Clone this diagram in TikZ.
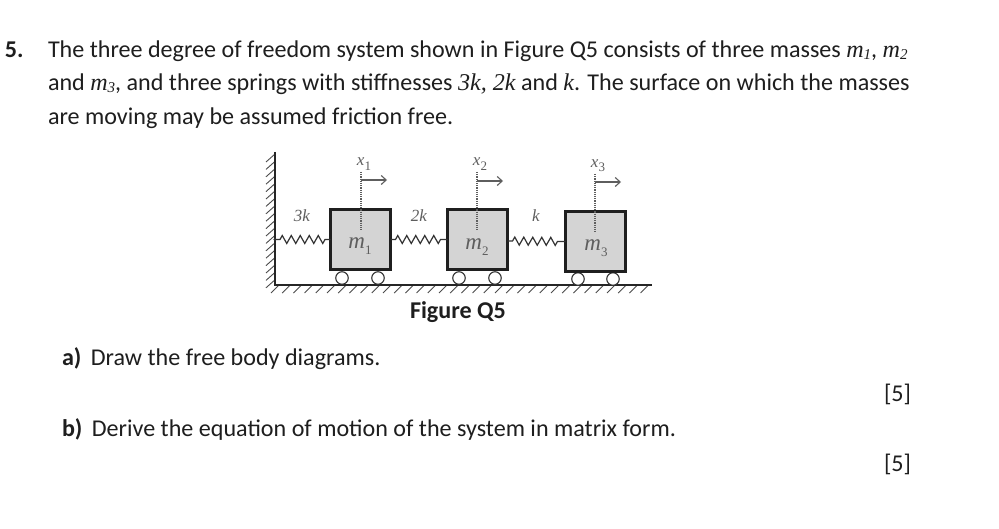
\documentclass[tikz,border=0pt]{standalone}
\usepackage{fontspec}
\setmainfont{Carlito}
\newfontfamily\tms{Liberation Serif}
\usetikzlibrary{decorations.pathmorphing,arrows.meta}
\definecolor{txt}{HTML}{1E1E1E}
\definecolor{fig}{HTML}{5E5E5E}
\newcommand{\mivar}[2]{{\tms\itshape #1\raisebox{-1.5pt}{\fontsize{15}{15}\selectfont #2}}}
\newcommand{\itvar}[1]{{\tms\itshape #1}}
\newcommand{\figsub}[2]{#1\raisebox{-0.25em}{\fontsize{13}{13}\selectfont\upshape #2}}
\tikzset{
 x=1pt,y=-1pt,
 line/.style={anchor=base west,inner sep=0pt,outer sep=0pt,text=txt,font=\fontsize{24.1}{28}\selectfont},
 mass/.style={draw=black!88,line width=2.3pt,fill=black!17,minimum width=60pt,minimum height=60pt,inner sep=0pt,outer sep=0pt},
 wheel/.style={circle,draw=black!80,line width=1.1pt,fill=white,minimum size=12.5pt,inner sep=0pt},
 spring/.style={draw=black!80,line width=1.2pt,decorate,decoration={zigzag,segment length=9pt,amplitude=4pt,pre length=5pt,post length=5pt}},
 probe/.style={draw=fig,line width=1.2pt,densely dotted},
 motion/.style={draw=fig,line width=1.1pt,-{Straight Barb[length=5pt,width=9pt]}},
 figlabel/.style={text=fig,inner sep=0pt,font=\tms\itshape\fontsize{17}{17}\selectfont},
 masslabel/.style={text=fig,inner sep=0pt,font=\tms\itshape\fontsize{23}{23}\selectfont},
 struct/.style={draw=black!85,line width=1.5pt},
 hatch/.style={draw=black!70,line width=0.9pt},
}
\begin{document}
\begin{tikzpicture}
\useasboundingbox[fill=white] (0,0) rectangle (999,529);
% text
\node[line] (l0) at (5,58) {\textbf{5.}};
\node[line] (l1) at (48,58) {The three degree of freedom system shown in Figure Q5 consists of three masses \mivar{m}{1}, \mivar{m}{2}};
\node[line] (l2) at (48,91) {and \mivar{m}{3}, and three springs with stiffnesses \itvar{3k, 2k} and \itvar{k}. The surface on which the masses};
\node[line] (l3) at (48,125) {are moving may be assumed friction free.};
\node[line] (cap) at (410,318.5) {\textbf{Figure Q5}};
\node[line] (qa) at (62,366) {\textbf{a)}\hspace{4pt} Draw the free body diagrams.};
\node[line] (m5a) at (884,402) {[5]};
\node[line] (qb) at (62,436) {\textbf{b)}\hspace{4pt} Derive the equation of motion of the system in matrix form.};
\node[line] (m5b) at (884,471) {[5]};
% hatching
\foreach \i in {0,...,17} \draw[hatch] (275,{154+\i*7.4}) -- (266,{162+\i*7.4});
\foreach \i in {0,...,33} \draw[hatch] ({279+\i*11.2},285) -- ({271+\i*11.2},293);
% wall & ground
\coordinate (walltop) at (275,152);
\coordinate (corner) at (275,285);
\coordinate (groundend) at (652,285);
\draw[struct] (walltop) -- (corner) -- (groundend);
% wheels
\node[wheel] (w1) at (342,278) {};
\node[wheel] (w2) at (378,278) {};
\node[wheel] (w3) at (459,278) {};
\node[wheel] (w4) at (495,278) {};
\node[wheel] (w5) at (578,279) {};
\node[wheel] (w6) at (613,279) {};
% masses
\node[mass] (m1) at (360.5,239.5) {};
\node[mass] (m2) at (477.5,239.5) {};
\node[mass] (m3) at (595.5,241.5) {};
\node[masslabel] (lm1) at (360,246) {\figsub{m}{1}};
\node[masslabel] (lm2) at (477,247) {\figsub{m}{2}};
\node[masslabel] (lm3) at (596,248) {\figsub{m}{3}};
% springs
\coordinate (wallpt) at (275,239.5);
\coordinate (m2k) at (m2.east |- 0,241);
\draw[spring] (wallpt) -- (m1.west);
\fill[black!80] (wallpt) circle (1.6pt);
\draw[spring] (m1.east) -- (m2.west);
\draw[spring] (m2k) -- (m3.west);
\node[figlabel] (k1) at (302,216) {3k};
\node[figlabel] (k2) at (419,216) {2k};
\node[figlabel] (k3) at (536,216) {k};
% probes
\coordinate (p1t) at (361,172); \coordinate (p1b) at (361,230); \coordinate (a1s) at (361,180); \coordinate (a1e) at (387,180);
\coordinate (p2t) at (477,172); \coordinate (p2b) at (477,230); \coordinate (a2s) at (477,181); \coordinate (a2e) at (503,181);
\coordinate (p3t) at (595,174); \coordinate (p3b) at (595,232); \coordinate (a3s) at (595,182); \coordinate (a3e) at (621,182);
\draw[probe] (p1t) -- (p1b); \draw[motion] (a1s) -- (a1e);
\draw[probe] (p2t) -- (p2b); \draw[motion] (a2s) -- (a2e);
\draw[probe] (p3t) -- (p3b); \draw[motion] (a3s) -- (a3e);
\node[figlabel] (x1) at (364,164) {\figsub{x}{1}};
\node[figlabel] (x2) at (480,164) {\figsub{x}{2}};
\node[figlabel] (x3) at (598,166) {\figsub{x}{3}};
\end{tikzpicture}
\end{document}
